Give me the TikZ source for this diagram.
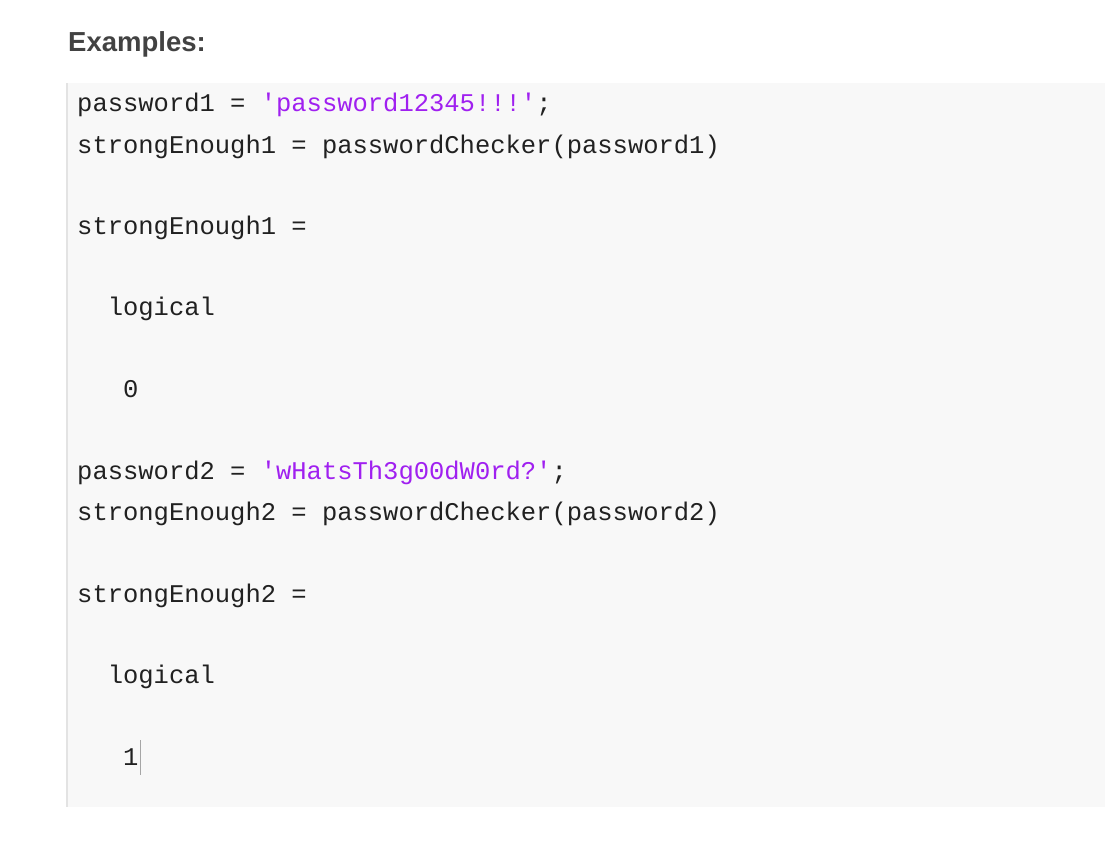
\documentclass[tikz,border=0pt]{standalone}
\usepackage{fontspec}
\setmainfont{Liberation Sans}
\newfontfamily\codefont{Liberation Mono}
\definecolor{txt}{HTML}{212121}
\definecolor{str}{HTML}{A020F0}
\definecolor{bg}{HTML}{F8F8F8}
\definecolor{rule}{HTML}{E3E3E3}
\begin{document}
\begin{tikzpicture}[x=1pt,y=-1pt,
  code/.style={anchor=mid west,inner sep=0pt,text=txt,font=\codefont\fontsize{25.5}{28}\selectfont}]
\useasboundingbox (0,0) rectangle (1105,850);
\fill[white] (0,0) rectangle (1105,850);
\fill[bg] (66,83) rectangle (1105,807);
\fill[rule] (66,83) rectangle (68,807);
\node[anchor=mid west,inner sep=0pt,text=txt!85!white,font=\bfseries\fontsize{27.5}{30}\selectfont] (title) at (68,49) {Examples:};
\node[code] (l1) at (77,109) {password1 = \textcolor{str}{'password12345!!!'};};
\node[code] (l2) at (77,151) {strongEnough1 = passwordChecker(password1)};
\node[code] (l3) at (77,232) {strongEnough1 =};
\node[code] (l4) at (77,313) {\ \ logical};
\node[code] (l5) at (77,395) {\ \ \ 0};
\node[code] (l6) at (77,477) {password2 = \textcolor{str}{'wHatsTh3g00dW0rd?'};};
\node[code] (l7) at (77,518) {strongEnough2 = passwordChecker(password2)};
\node[code] (l8) at (77,600) {strongEnough2 =};
\node[code] (l9) at (77,681) {\ \ logical};
\node[code] (l10) at (77,763) {\ \ \ 1};
\draw[gray!70,line width=0.8pt] (140,740) -- (140,775);
\end{tikzpicture}
\end{document}
